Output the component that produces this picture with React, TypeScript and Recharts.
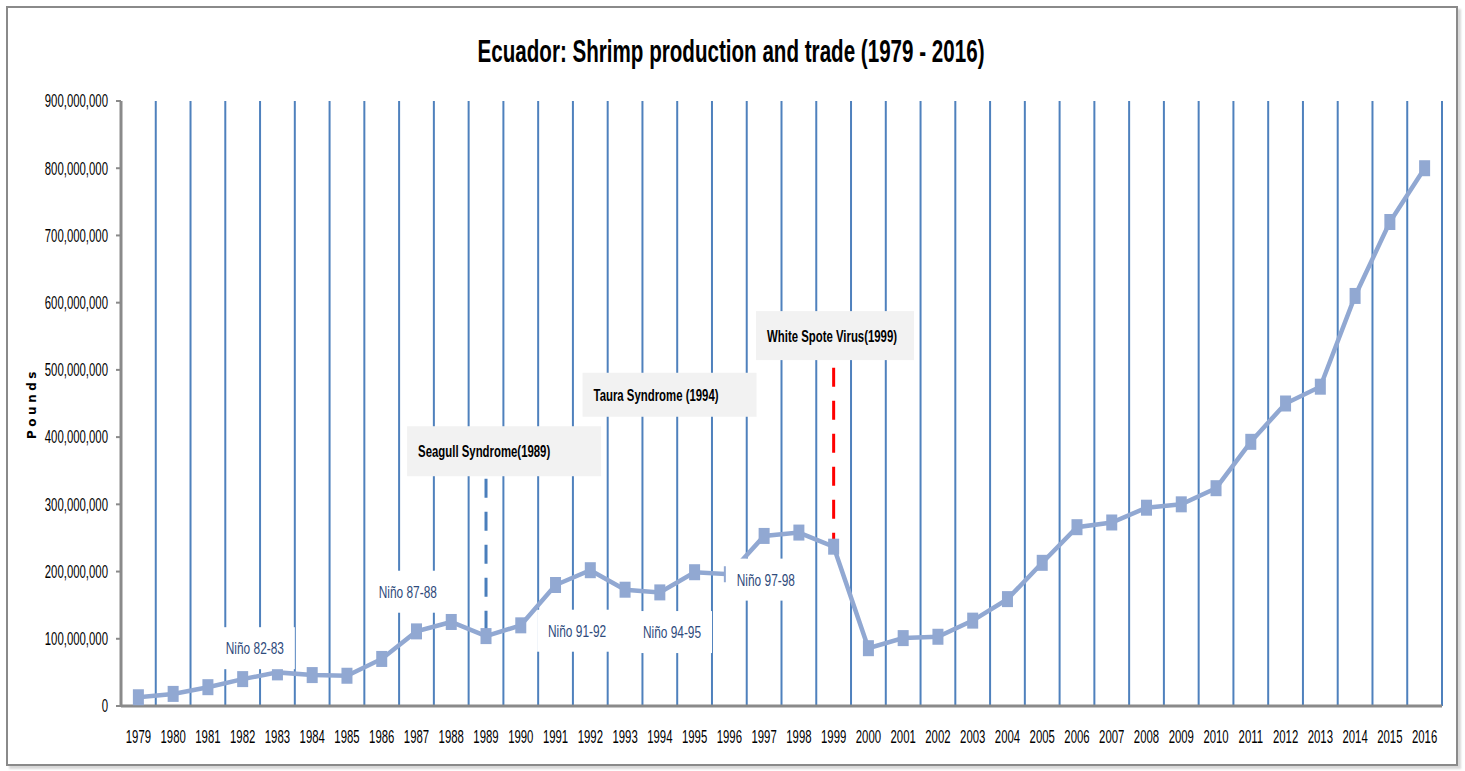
import React from "react";
import {
  LineChart, Line, XAxis, YAxis, CartesianGrid, ReferenceLine, ReferenceDot,
} from "recharts";

const years = [
  1979, 1980, 1981, 1982, 1983, 1984, 1985, 1986, 1987, 1988,
  1989, 1990, 1991, 1992, 1993, 1994, 1995, 1996, 1997, 1998,
  1999, 2000, 2001, 2002, 2003, 2004, 2005, 2006, 2007, 2008,
  2009, 2010, 2011, 2012, 2013, 2014, 2015, 2016,
];

// shrimp output, pounds
const pounds = [
  13e6, 18e6, 28e6, 40e6, 50e6, 46e6, 45e6, 70e6, 111e6, 125e6,
  104e6, 120e6, 180e6, 202e6, 173e6, 169e6, 199e6, 196e6, 253e6, 258e6,
  237e6, 86e6, 101e6, 103e6, 127e6, 159e6, 213e6, 266e6, 273e6, 295e6,
  300e6, 324e6, 393e6, 450e6, 475e6, 610e6, 720e6, 800e6,
];

const yTicks = [0, 100e6, 200e6, 300e6, 400e6, 500e6, 600e6, 700e6, 800e6, 900e6];

// El Niño events, placed at (year, pounds)
const ninoLabels = [
  { text: "Niño 82-83", x: 1982.35, y: 86e6 },
  { text: "Niño 87-88", x: 1986.75, y: 170e6 },
  { text: "Niño 91-92", x: 1991.62, y: 112e6 },
  { text: "Niño 94-95", x: 1994.35, y: 110e6 },
  { text: "Niño 97-98", x: 1997.05, y: 188e6 },
];

// disease outbreaks: gray callouts, box centre in (year, pounds)
const diseaseBoxes = [
  { text: "Seagull Syndrome(1989)", x: 1989.52, y: 379e6, w: 194, h: 50 },
  { text: "Taura Syndrome (1994)", x: 1994.28, y: 463e6, w: 174, h: 44 },
  { text: "White Spote Virus(1999)", x: 1999.04, y: 551e6, w: 158, h: 49 },
];

// dashed markers for the two big outbreaks
const outbreakLines = [
  { year: 1989, from: 338e6, to: 104e6, color: "#4a7ebb" },
  { year: 1999, from: 503e6, to: 237e6, color: "#ff0000" },
];

const data = years.map((year, i) => ({ year, pounds: pounds[i] }));

const xDomain: [number, number] = [years[0] - 0.5, years[years.length - 1] + 0.5];
const boundaries = years.map((y) => y + 0.5);

const sans = "'Liberation Sans', Arial, sans-serif";
const fmt = (v: number) => v.toLocaleString("en-US");

// narrow lettering: regular font squeezed horizontally
function Squeezed({ x, y, k, children, ...rest }: any) {
  return (
    <text transform={`translate(${x} ${y}) scale(${k} 1)`} x={0} y={0} fontFamily={sans} {...rest}>
      {children}
    </text>
  );
}

// vertical grid at the borders between years, not at the year ticks
function gridAtBoundaries(props: any) {
  const scale = props?.xAxis?.scale;
  if (typeof scale === "function") return boundaries.map((b) => scale(b));
  const { left, width } = props.offset;
  return boundaries.map((b) => left + ((b - xDomain[0]) / (xDomain[1] - xDomain[0])) * width);
}

function XTick({ x, y, payload }: any) {
  return (
    <Squeezed x={x} y={y} k={0.65} textAnchor="middle" dy="0.71em" fontSize={17.5} fill="#000">
      {payload.value}
    </Squeezed>
  );
}

function YTick({ x, y, payload }: any) {
  return (
    <Squeezed x={x} y={y} k={0.65} textAnchor="end" dy="0.36em" fontSize={17.5} fill="#000">
      {fmt(payload.value)}
    </Squeezed>
  );
}

function SquareDot(props: any) {
  const { cx, cy } = props;
  if (cx == null || cy == null) return null;
  return <rect x={cx - 5.5} y={cy - 8} width={11} height={16} fill="#91a8d2" />;
}

function ninoShape(text: string) {
  return (props: any) => {
    const { cx, cy } = props;
    return (
      <g>
        <rect x={cx - 40} y={cy - 21} width={80} height={42} fill="#ffffff" />
        <Squeezed x={cx} y={cy} k={0.7} textAnchor="middle" dy="0.36em" fontSize={17} fill="#2f4b7c">
          {text}
        </Squeezed>
      </g>
    );
  };
}

function calloutShape(text: string, w: number, h: number) {
  return (props: any) => {
    const { cx, cy } = props;
    return (
      <g>
        <rect x={cx - w / 2} y={cy - h / 2} width={w} height={h} fill="#f2f2f2" />
        <Squeezed x={cx - w / 2 + 11} y={cy} k={0.67} dy="0.36em" fontSize={17} fontWeight="bold" fill="#000">
          {text}
        </Squeezed>
      </g>
    );
  };
}

export default function App() {
  return (
    <div style={{ position: "relative", width: 1465, height: 771, background: "#fff" }}>
      <style>{"body{margin:0}"}</style>
      <div style={{
        position: "absolute", left: 6, top: 6, width: 1448, height: 756,
        border: "2px solid #8a8a8a", boxShadow: "3px 3px 2px #d8d8d8",
      }} />
      <LineChart
        width={1465}
        height={771}
        data={data}
        margin={{ top: 101, right: 23, bottom: 25, left: 21 }}
        style={{ position: "absolute", left: 0, top: 0 }}
      >
        <text x={731} y={62} textAnchor="middle" textLength={507} lengthAdjust="spacingAndGlyphs"
          fontFamily={sans} fontSize={31} fontWeight="bold" fill="#000">
          Ecuador: Shrimp production and trade (1979 - 2016)
        </text>
        <CartesianGrid
          horizontal={false}
          stroke="#4f81bd"
          strokeWidth={2}
          verticalCoordinatesGenerator={gridAtBoundaries}
        />
        <XAxis
          dataKey="year"
          type="number"
          domain={xDomain}
          ticks={years}
          interval={0}
          allowDataOverflow
          height={40}
          tickLine={false}
          tickSize={6}
          tickMargin={19}
          axisLine={{ stroke: "#8a8a8a", strokeWidth: 3 }}
          tick={<XTick />}
        />
        <YAxis
          width={100}
          domain={[0, 900e6]}
          ticks={yTicks}
          interval={0}
          tickSize={5}
          tickMargin={8}
          tickLine={{ stroke: "#8a8a8a", strokeWidth: 2 }}
          axisLine={{ stroke: "#8a8a8a", strokeWidth: 3 }}
          tick={<YTick />}
          label={{
            value: "Pounds", angle: -90, position: "insideLeft", offset: 11,
            style: { textAnchor: "middle", fontFamily: "'DejaVu Sans', sans-serif", fontSize: 12, fontWeight: "bold", letterSpacing: 3.5, fill: "#000" },
          }}
        />
        <Line
          type="linear"
          dataKey="pounds"
          stroke="#91a8d2"
          strokeWidth={4.5}
          dot={<SquareDot />}
          activeDot={false}
          isAnimationActive={false}
        />
        {outbreakLines.map((l) => (
          <ReferenceLine
            key={l.year}
            segment={[{ x: l.year, y: l.from }, { x: l.year, y: l.to }]}
            stroke={l.color}
            strokeWidth={3}
            strokeDasharray="19 14"
          />
        ))}
        {ninoLabels.map((n) => (
          <ReferenceDot key={n.text} x={n.x} y={n.y} r={1} zIndex={1500} shape={ninoShape(n.text)} />
        ))}
        {diseaseBoxes.map((d) => (
          <ReferenceDot key={d.text} x={d.x} y={d.y} r={1} zIndex={1500} shape={calloutShape(d.text, d.w, d.h)} />
        ))}
      </LineChart>
    </div>
  );
}
